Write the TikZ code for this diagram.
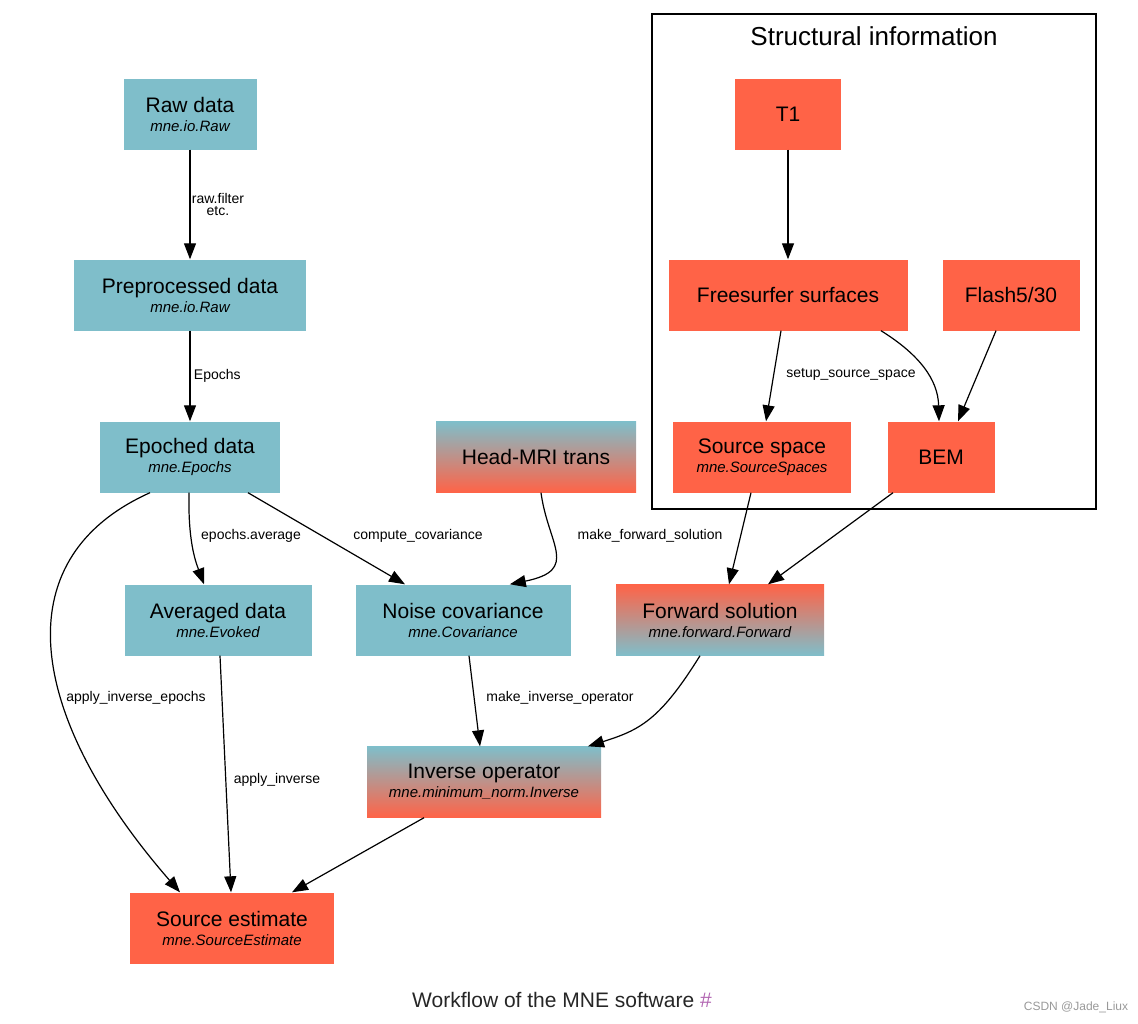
\documentclass[tikz,border=0pt]{standalone}
\usepackage{fontspec}
\setmainfont{Liberation Sans}
\usetikzlibrary{arrows.meta}
\definecolor{cb}{RGB}{127,190,202}
\definecolor{co}{RGB}{255,99,71}
\newcommand{\twol}[2]{{\fontsize{21}{22}\selectfont #1}\\[-3pt]{\fontsize{15}{16}\selectfont\itshape #2}}
\begin{document}
\begin{tikzpicture}[x=1pt,y=-1pt,
 box/.style={minimum height=71,inner sep=0,align=center,font=\fontsize{21}{22}\selectfont},
 bl/.style={box,fill=cb},
 or/.style={box,fill=co},
 gbo/.style={box,top color=cb,bottom color=co},
 gob/.style={box,top color=co,bottom color=cb},
 e/.style={draw,line width=1.2pt,-{Triangle[length=16,width=12]}},
 lab/.style={font=\fontsize{14}{16}\selectfont,align=center}]
\useasboundingbox (0,0) rectangle (1138,1023);
\draw[line width=1.3pt] (652,14) rectangle (1096,509);
\node[font=\fontsize{26}{28}\selectfont] (ct) at (874,36) {Structural information};
\node[bl,minimum width=133] (raw) at (190,114) {\twol{Raw data}{mne.io.Raw}};
\node[bl,minimum width=232] (pre) at (190,295) {\twol{Preprocessed data}{mne.io.Raw}};
\node[bl,minimum width=180] (epo) at (190,457) {\twol{Epoched data}{mne.Epochs}};
\node[bl,minimum width=187] (avg) at (218,620) {\twol{Averaged data}{mne.Evoked}};
\node[bl,minimum width=215] (cov) at (463,620) {\twol{Noise covariance}{mne.Covariance}};
\node[gbo,minimum width=200] (trans) at (536,457) {Head-MRI trans};
\node[gob,minimum width=208] (fwd) at (720,620) {\twol{Forward solution}{mne.forward.Forward}};
\node[gbo,minimum width=234] (inv) at (484,782) {\twol{Inverse operator}{mne.minimum\_norm.Inverse}};
\node[or,minimum width=204] (stc) at (232,928) {\twol{Source estimate}{mne.SourceEstimate}};
\node[or,minimum width=106] (t1) at (788,114) {T1};
\node[or,minimum width=239] (fs) at (788,295) {Freesurfer surfaces};
\node[or,minimum width=137] (flash) at (1011,295) {Flash5/30};
\node[or,minimum width=178] (src) at (762,457) {\twol{Source space}{mne.SourceSpaces}};
\node[or,minimum width=107] (bem) at (941,457) {BEM};

\draw[e] (raw) -- node[lab,right,xshift=-2] {raw.filter\\[-4pt]etc.} (pre);
\draw[e] (pre) -- node[lab,right] {Epochs} (epo);
\draw[e] ([xshift=-40]epo.south) .. controls (0,560) and (30,720) .. ([xshift=-52]stc.north);
\node[lab] (l1) at (136,698) {apply\_inverse\_epochs};
\draw[e] ([xshift=-1]epo.south) .. controls (188,540) and (195,560) .. ([xshift=-14]avg.north);
\node[lab] (l2) at (251,536) {epochs.average};
\draw[e] ([xshift=58]epo.south) -- ([xshift=-58]cov.north);
\node[lab] (l3) at (418,536) {compute\_covariance};
\draw[e] ([xshift=5]trans.south) .. controls (548,545) and (580,570) .. ([xshift=-106]fwd.north west) ;
\node[lab] (l4) at (650,536) {make\_forward\_solution};
\draw[e] (t1) -- (fs);
\draw[e] ([xshift=-7]fs.south) -- ([xshift=4]src.north);
\node[lab] (l5) at (851,374) {setup\_source\_space};
\draw[e] ([xshift=93]fs.south) .. controls (920,355) and (938,380) .. ([xshift=-2]bem.north);
\draw[e] ([xshift=-15]flash.south) -- ([xshift=17]bem.north);
\draw[e] ([xshift=-11]src.south) -- ([xshift=9]fwd.north);
\draw[e] ([xshift=-48]bem.south) -- ([xshift=48]fwd.north);
\draw[e] ([xshift=-20]fwd.south) .. controls (660,720) and (640,730) .. ([xshift=104]inv.north);
\draw[e] ([xshift=6]cov.south) -- ([xshift=-4]inv.north);
\node[lab] (l6) at (560,698) {make\_inverse\_operator};
\draw[e] ([xshift=2]avg.south) -- ([xshift=-1]stc.north);
\node[lab] (l7) at (277,780) {apply\_inverse};
\draw[e] ([xshift=-60]inv.south) -- ([xshift=60]stc.north);

\node[font=\fontsize{21}{22}\selectfont,text=black!85] (cap) at (562,1000) {Workflow of the MNE software \textcolor{violet!60}{\#}};
\node[font=\fontsize{12}{14}\selectfont,text=black!40] (wm) at (1076,1007) {CSDN @Jade\_Liux};
\end{tikzpicture}
\end{document}
